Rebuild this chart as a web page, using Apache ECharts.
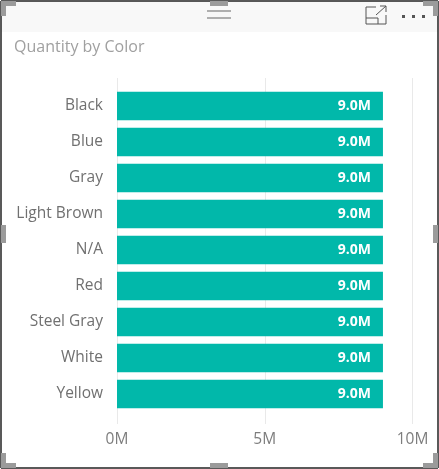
<!DOCTYPE html>
<html>
<head>
<meta charset="utf-8">
<style>html,body{margin:0;padding:0;background:#fff}#c{width:439px;height:469px}</style>
<script src="https://cdn.jsdelivr.net/npm/echarts@6/dist/echarts.min.js"></script>
</head>
<body>
<div id="c"></div>
<script>
const titleText = 'Quantity by Color';
const categories = ['Black','Blue','Gray','Light Brown','N/A','Red','Steel Gray','White','Yellow'];
const quantities = [9000000,9000000,9000000,9000000,9000000,9000000,9000000,9000000,9000000];
const axisMax = 10000000;
const axisStep = 5000000;
const fontName = '"Open Sans", "Noto Sans", sans-serif';
const gray = '#9b9b9b';
const rect = (x,y,w,h,fill) => ({type:'rect',shape:{x,y,width:w,height:h},style:{fill},silent:true});
const line = (x1,y1,x2,y2,stroke,lineWidth=1) => ({type:'line',shape:{x1,y1,x2,y2},style:{stroke,lineWidth},silent:true});
const chart = echarts.init(document.getElementById('c'));
chart.setOption({
  animation:false,
  backgroundColor:'#ffffff',
  title:{text:titleText,left:9,top:34,textStyle:{fontFamily:fontName,fontSize:16,fontWeight:'normal',color:'#a0a0a0'}},
  grid:[
    {left:117,width:295.5,top:78,height:346},
    {left:117,width:295.5,top:88,height:324}
  ],
  xAxis:[
    {type:'value',gridIndex:0,min:0,max:axisMax,interval:axisStep,
     axisLine:{show:false},axisTick:{show:false},
     splitLine:{show:true,lineStyle:{color:'#e9e9e9',width:1}},
     axisLabel:{margin:8,color:'#7d7d7d',fontFamily:fontName,fontSize:15.5,hideOverlap:false,
       formatter:v=>(v/1000000)+'M'}},
    {type:'value',gridIndex:1,min:0,max:axisMax,interval:axisStep,show:false}
  ],
  yAxis:[
    {type:'category',gridIndex:0,show:false,data:categories,inverse:true},
    {type:'category',gridIndex:1,data:categories,inverse:true,
     axisLine:{show:false},axisTick:{show:false},
     axisLabel:{margin:14,color:'#707070',fontFamily:fontName,fontSize:15.5,interval:0}}
  ],
  series:[{
    type:'bar',xAxisIndex:1,yAxisIndex:1,data:quantities,barWidth:28.5,
    itemStyle:{color:'#01B8AA'},
    label:{show:true,position:'insideRight',distance:12,color:'#ffffff',fontFamily:fontName,fontSize:14,fontWeight:'bold',
      formatter:p=>(p.value/1000000).toFixed(1)+'M'}
  }],
  graphic:{elements:[
    {type:'group',silent:true,z:-1,children:[rect(1,1,437,31,'#f8f8f8')]},
    {type:'group',silent:true,children:[
      line(1,1,438,1,'#222',1.5),line(1,468,438,468,'#222',1.5),
      line(1,1,1,468,'#222',1.5),line(438,1,438,468,'#222',1.5),
      rect(1,1,15,5,gray),rect(1,1,5,15,gray),
      rect(423,1,15,5,gray),rect(433,1,5,15,gray),
      rect(1,463,15,5,gray),rect(1,453,5,15,gray),
      rect(423,463,15,5,gray),rect(433,453,5,15,gray),
      rect(210,1,18,5,gray),rect(210,463,18,5,gray),
      rect(1,225,5,18,gray),rect(433,225,5,18,gray),
      line(207,11,231,11,'#666',1),line(207,18,231,18,'#666',1),
      line(376,7,366,7,'#555',1),line(366,7,366,24,'#555',1),line(366,24,386,24,'#555',1),
      line(386,24,386,15,'#555',1),line(366,18,378,18,'#555',1),line(378,18,378,24,'#555',1),
      line(376,15,386,6,'#555',1),line(380,6,386,6,'#555',1),line(386,6,386,12,'#555',1),
      rect(402,15,3,3,'#555'),rect(412,15,3,3,'#555'),rect(422,15,3,3,'#555')
    ]}
  ]}
});
</script>
</body>
</html>
